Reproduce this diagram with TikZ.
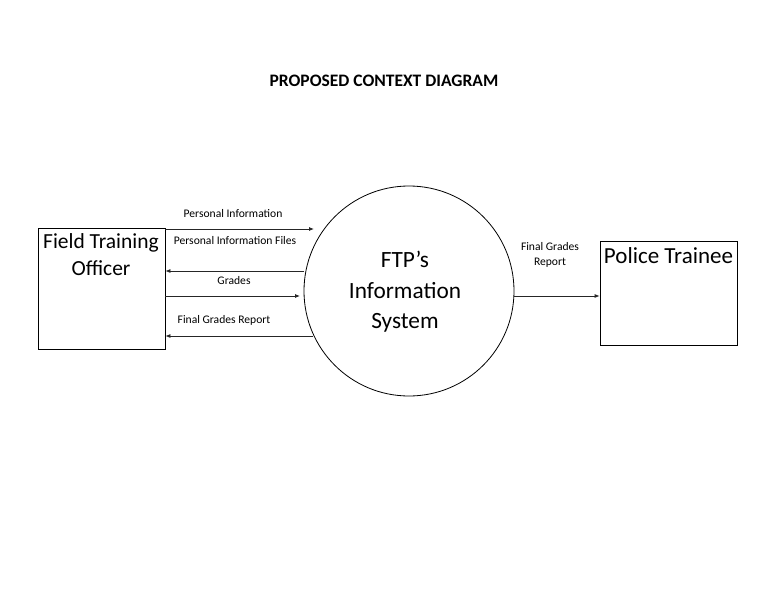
\documentclass[tikz,border=0pt]{standalone}
\usepackage{fontspec}
\setmainfont{Carlito}
\usetikzlibrary{arrows.meta}
\begin{document}
\begin{tikzpicture}[x=1pt,y=-1pt,
  flow/.style={draw=black!85,line width=0.8pt,-{Latex[length=5pt,width=4pt]}},
  lbl/.style={font=\fontsize{11.6}{14}\selectfont,inner sep=0pt},
  entity/.style={draw,line width=0.8pt,inner sep=0pt}]
\useasboundingbox[fill=white] (0,0) rectangle (768,594);
\node[font=\bfseries\fontsize{17.5}{21}\selectfont] (title) at (384,81) {PROPOSED CONTEXT DIAGRAM};
\node[entity,minimum width=127pt,minimum height=121pt] (fto) at (101.5,288.5) {};
\node[align=center,font=\fontsize{21.5}{27}\selectfont,anchor=north,inner sep=0pt] (ftot) at (101,233) {Field Training\\Officer};
\node[draw,circle,line width=0.8pt,minimum size=210pt,inner sep=0pt] (sys) at (409,291) {};
\node[align=center,font=\fontsize{23.3}{30.5}\selectfont,inner sep=0pt] (syst) at (405,292) {FTP’s\\Information\\System};
\node[entity,minimum width=137pt,minimum height=104pt] (pt) at (668.5,293) {};
\node[font=\fontsize{23}{27}\selectfont,anchor=north,inner sep=0pt] (ptt) at (668.5,247) {Police Trainee};
% endpoints
\coordinate (a1s) at (fto.east |- 0,229);
\coordinate (a1e) at (314,229);
\coordinate (a2s) at (304,271);
\coordinate (a2e) at (fto.east |- 0,271);
\coordinate (a3s) at (fto.east |- 0,296);
\coordinate (a3e) at (300,296);
\coordinate (a4s) at (313,336);
\coordinate (a4e) at (fto.east |- 0,336);
\coordinate (a5s) at (sys.east |- 0,296);
\coordinate (a5e) at (pt.west |- 0,296);
\draw[flow] (a1s) -- (a1e);
\draw[flow] (a2s) -- (a2e);
\draw[flow] (a3s) -- (a3e);
\draw[flow] (a4s) -- (a4e);
\draw[flow] (a5s) -- (a5e);
\node[lbl] (l1) at (233,214) {Personal Information};
\node[lbl] (l2) at (235,241) {Personal Information Files};
\node[lbl] (l3) at (234,281) {Grades};
\node[lbl] (l4) at (224,320) {Final Grades Report};
\node[lbl,align=center,font=\fontsize{11.6}{15}\selectfont] (l5) at (550,255) {Final Grades\\Report};
\end{tikzpicture}
\end{document}
